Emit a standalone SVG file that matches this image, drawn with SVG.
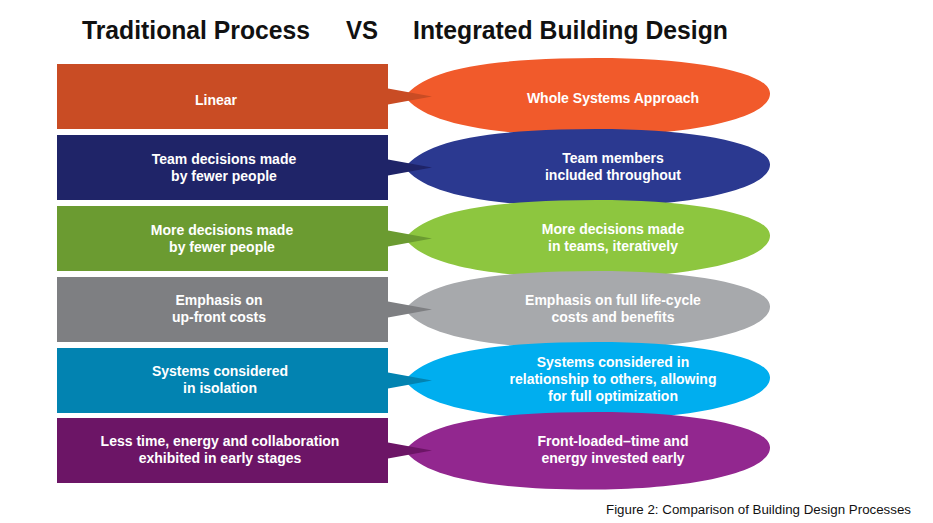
<svg xmlns="http://www.w3.org/2000/svg" width="933" height="523" viewBox="0 0 933 523">
<style>
.title{font-family:"Liberation Sans",Arial,sans-serif;font-weight:bold;font-size:26px;fill:#111}
.lbl{font-family:"Liberation Sans",Arial,sans-serif;font-weight:bold;font-size:14px;fill:#fff;text-anchor:middle}
.cap{font-family:"Liberation Sans",Arial,sans-serif;font-size:12.5px;fill:#111}
</style>
<defs>
<path id="bubble" d="M405 0 C422 -22 465 -35 560 -38 C680 -42 770 -26 770 -3 C770 22 690 39 590 39 C480 39 422 24 405 0 Z"/>
<polygon id="tail" points="388,-8 432,0 388,8"/>
</defs>
<rect width="933" height="523" fill="#fff"/>
<g id="titles">
<text class="title" x="82" y="39" textLength="228" lengthAdjust="spacingAndGlyphs">Traditional Process</text>
<text class="title" x="346" y="39" textLength="32" lengthAdjust="spacingAndGlyphs">VS</text>
<text class="title" x="413" y="39" textLength="315" lengthAdjust="spacingAndGlyphs">Integrated Building Design</text>
</g>
<g id="row1">
<rect x="57" y="64" width="331" height="65" fill="#C94C24"/>
<use href="#bubble" transform="translate(0,96.5)" fill="#F15A2B"/>
<use href="#tail" transform="translate(0,96.5)" fill="#C94C24"/>
<text class="lbl" x="216" y="105">Linear</text>
<text class="lbl" x="613" y="103">Whole Systems Approach</text>
</g>
<g id="row2">
<rect x="57" y="135" width="331" height="65" fill="#1F2468"/>
<use href="#bubble" transform="translate(0,167.5)" fill="#2B3990"/>
<use href="#tail" transform="translate(0,167.5)" fill="#1F2468"/>
<text class="lbl" x="224" y="164">Team decisions made</text>
<text class="lbl" x="224" y="181">by fewer people</text>
<text class="lbl" x="613" y="163">Team members</text>
<text class="lbl" x="613" y="180">included throughout</text>
</g>
<g id="row3">
<rect x="57" y="206" width="331" height="65" fill="#6B9B31"/>
<use href="#bubble" transform="translate(0,238.5)" fill="#8DC63F"/>
<use href="#tail" transform="translate(0,238.5)" fill="#6B9B31"/>
<text class="lbl" x="222" y="235">More decisions made</text>
<text class="lbl" x="222" y="252">by fewer people</text>
<text class="lbl" x="613" y="234">More decisions made</text>
<text class="lbl" x="613" y="251">in teams, iteratively</text>
</g>
<g id="row4">
<rect x="57" y="277" width="331" height="65" fill="#7E7F82"/>
<use href="#bubble" transform="translate(0,309.5)" fill="#A7A9AC"/>
<use href="#tail" transform="translate(0,309.5)" fill="#7E7F82"/>
<text class="lbl" x="219" y="305">Emphasis on</text>
<text class="lbl" x="219" y="322">up-front costs</text>
<text class="lbl" x="613" y="305">Emphasis on full life-cycle</text>
<text class="lbl" x="613" y="322">costs and benefits</text>
</g>
<g id="row5">
<rect x="57" y="348" width="331" height="65" fill="#0283B1"/>
<use href="#bubble" transform="translate(0,380.5)" fill="#00AEEF"/>
<use href="#tail" transform="translate(0,380.5)" fill="#0283B1"/>
<text class="lbl" x="220" y="376">Systems considered</text>
<text class="lbl" x="220" y="393">in isolation</text>
<text class="lbl" x="613" y="367">Systems considered in</text>
<text class="lbl" x="613" y="384">relationship to others, allowing</text>
<text class="lbl" x="613" y="401">for full optimization</text>
</g>
<g id="row6">
<rect x="57" y="418" width="331" height="65" fill="#6C1566"/>
<use href="#bubble" transform="translate(0,450.5)" fill="#92278F"/>
<use href="#tail" transform="translate(0,450.5)" fill="#6C1566"/>
<text class="lbl" x="220" y="446">Less time, energy and collaboration</text>
<text class="lbl" x="220" y="463">exhibited in early stages</text>
<text class="lbl" x="613" y="446">Front-loaded–time and</text>
<text class="lbl" x="613" y="463">energy invested early</text>
</g>
<g id="connectors"></g>
<text class="cap" x="606" y="514" textLength="305" lengthAdjust="spacingAndGlyphs">Figure 2: Comparison of Building Design Processes</text>
</svg>
